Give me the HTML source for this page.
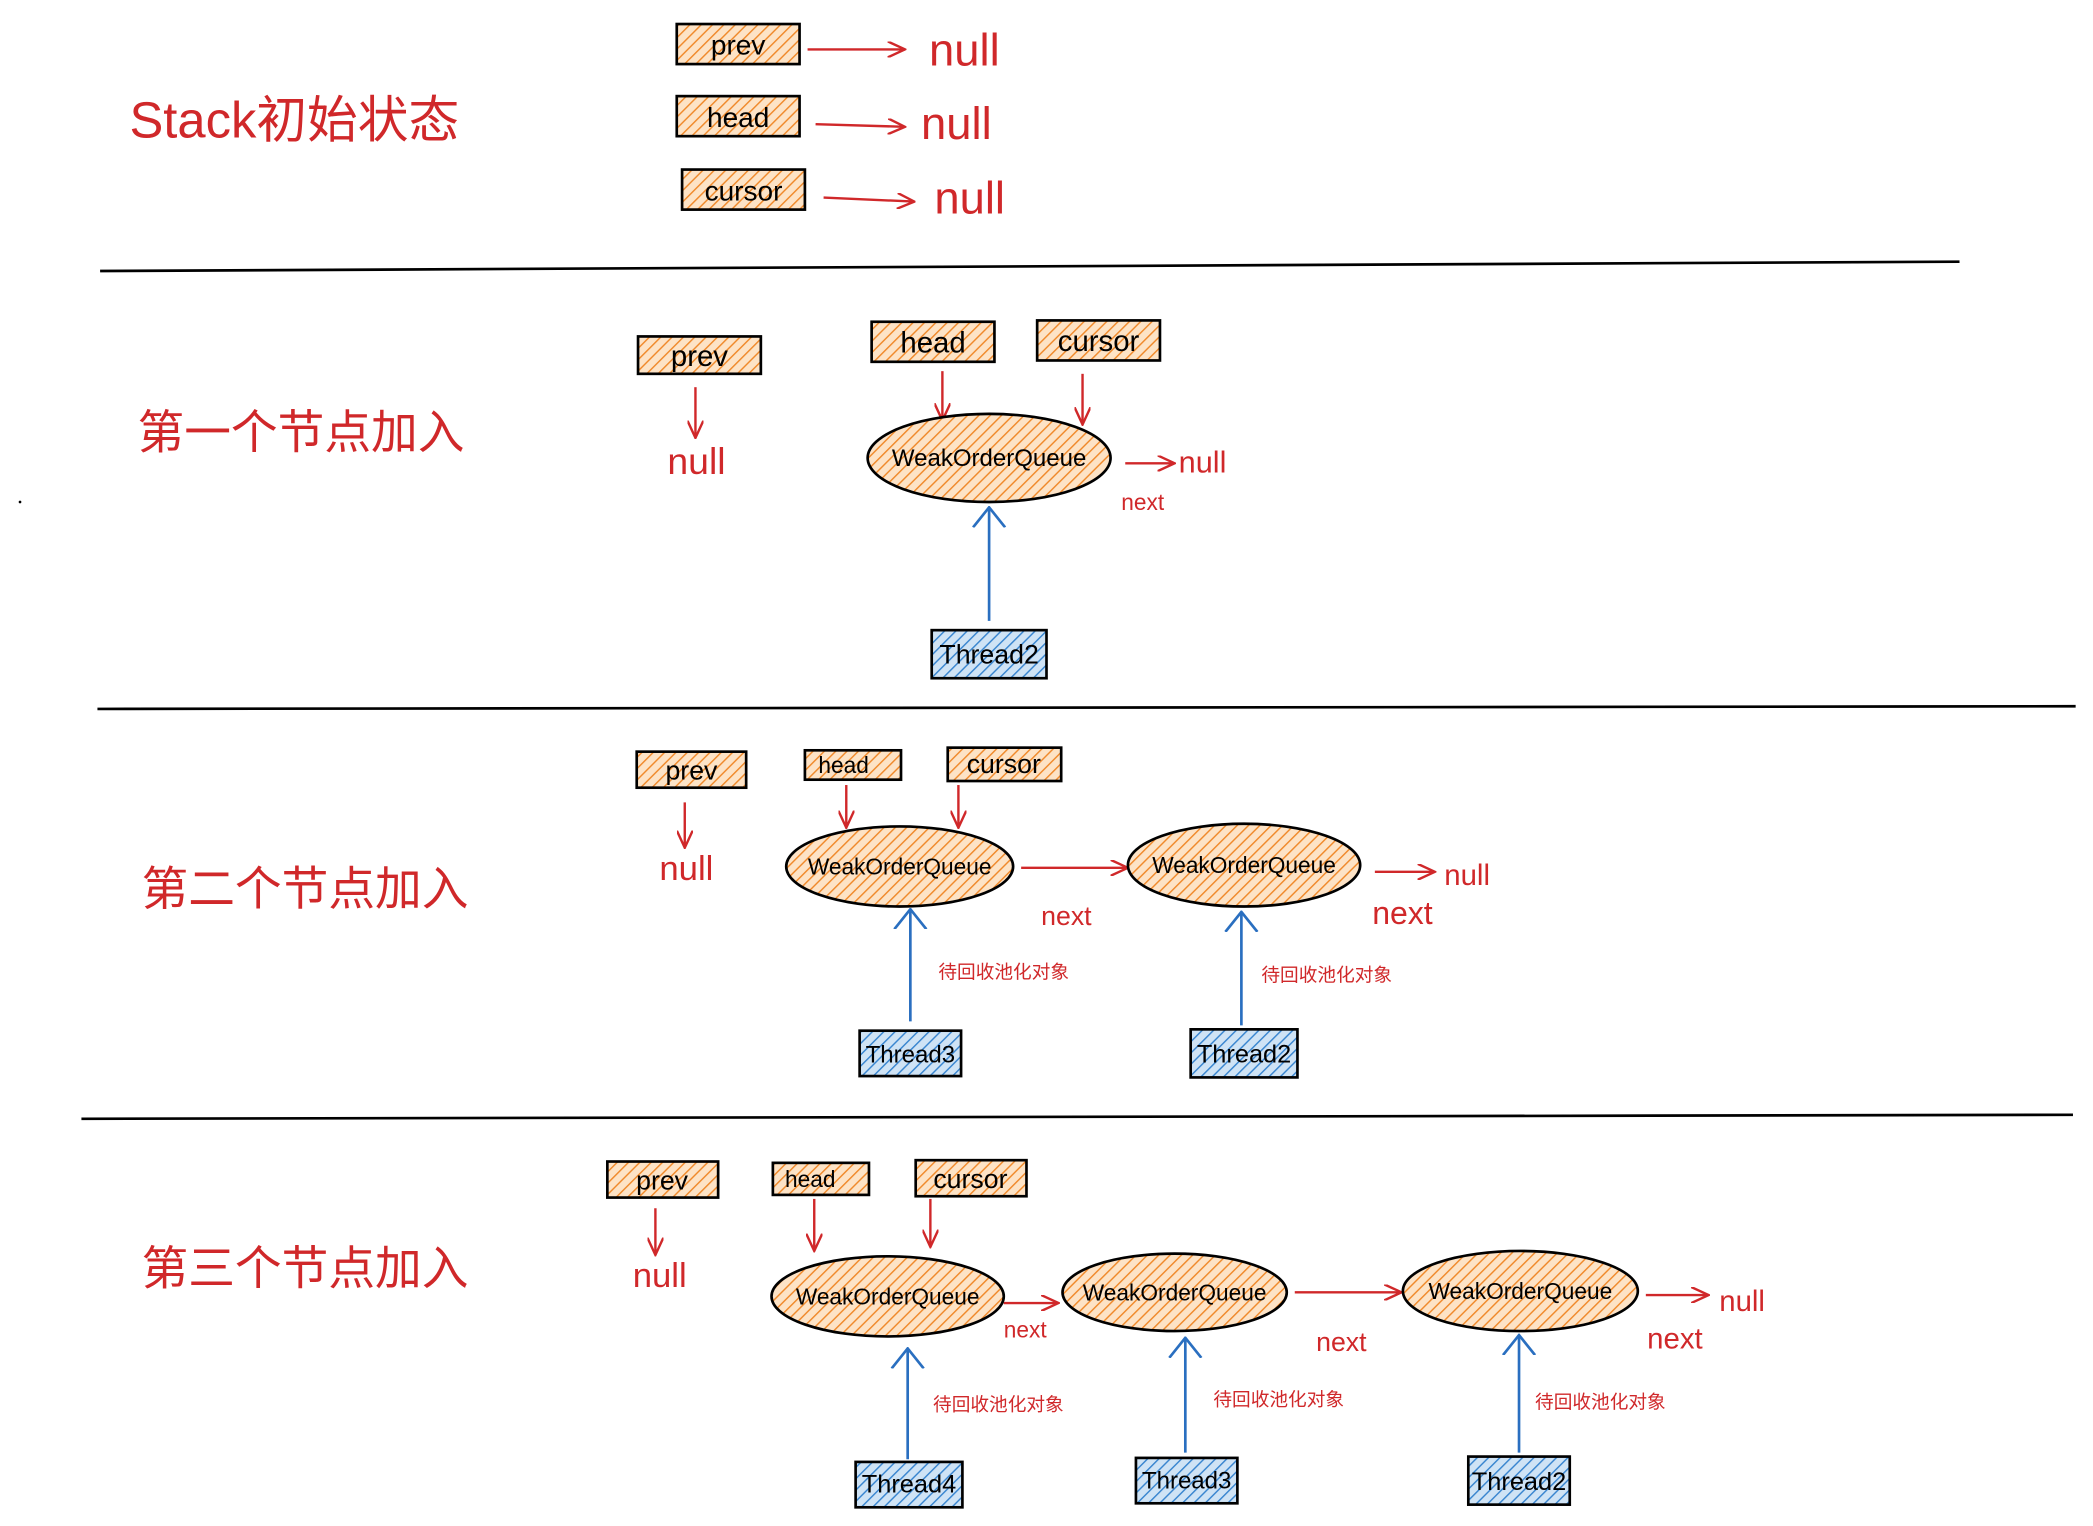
<!DOCTYPE html>
<html><head><meta charset="utf-8"><style>
html,body{margin:0;padding:0;background:#fff;}
svg{display:block;}
text{font-family:"Liberation Sans","Noto Sans CJK SC",sans-serif;}
.r{fill:#d0282a;}
.t{fill:#000;}
</style></head><body>
<svg width="2093" height="1526" viewBox="0 0 1568 1143" preserveAspectRatio="none" xmlns="http://www.w3.org/2000/svg">
<defs>
<pattern id="ho" width="6" height="6" patternUnits="userSpaceOnUse" patternTransform="rotate(45)">
<rect width="6" height="6" fill="#fde3c6"/><line x1="0" y1="0" x2="0" y2="6" stroke="#f08a2c" stroke-width="2.2"/></pattern>
<pattern id="hb" width="6" height="6" patternUnits="userSpaceOnUse" patternTransform="rotate(45)">
<rect width="6" height="6" fill="#cfe3f5"/><line x1="0" y1="0" x2="0" y2="6" stroke="#3a86d0" stroke-width="2.2"/></pattern>
<marker id="ar" markerWidth="14" markerHeight="12" refX="13" refY="6" orient="auto" markerUnits="userSpaceOnUse"><path d="M0,0 L13,6 L0,12" fill="none" stroke="#d0282a" stroke-width="1.8"/></marker>
<marker id="ab" markerWidth="16" markerHeight="30" refX="15" refY="15" orient="auto" markerUnits="userSpaceOnUse"><path d="M0,3 L15,15 L0,27" fill="none" stroke="#2a6fc0" stroke-width="2"/></marker>
</defs>
<g stroke="#d0282a" stroke-width="1.8" fill="none" marker-end="url(#ar)">
<line x1="605" y1="37" x2="678" y2="37"/>
<line x1="611" y1="93" x2="678" y2="95"/>
<line x1="617" y1="148" x2="685" y2="151"/>
<line x1="521" y1="290" x2="521" y2="328"/>
<line x1="706" y1="278" x2="706" y2="315"/>
<line x1="811" y1="280" x2="811" y2="318"/>
<line x1="843" y1="347" x2="880" y2="347"/>
<line x1="513" y1="601" x2="513" y2="635"/>
<line x1="634" y1="588" x2="634" y2="620"/>
<line x1="718" y1="588" x2="718" y2="620"/>
<line x1="765" y1="650" x2="845" y2="650"/>
<line x1="1030" y1="653" x2="1075" y2="653"/>
<line x1="491" y1="905" x2="491" y2="940"/>
<line x1="610" y1="898" x2="610" y2="937"/>
<line x1="697" y1="898" x2="697" y2="934"/>
<line x1="752" y1="976" x2="793" y2="976"/>
<line x1="970" y1="968" x2="1050" y2="968"/>
<line x1="1233" y1="970" x2="1280" y2="970"/>
</g>
<g stroke="#2a6fc0" stroke-width="2" fill="none" marker-end="url(#ab)">
<line x1="741" y1="465" x2="741" y2="380"/>
<line x1="682" y1="765" x2="682" y2="681"/>
<line x1="930" y1="768" x2="930" y2="683"/>
<line x1="680" y1="1093" x2="680" y2="1010"/>
<line x1="888" y1="1088" x2="888" y2="1002"/>
<line x1="1138" y1="1088" x2="1138" y2="1000"/>
</g>
<g stroke="#000" stroke-width="2">
<line x1="75" y1="203" x2="1468" y2="196"/>
<line x1="73" y1="531" x2="1555" y2="529"/>
<line x1="61" y1="838" x2="1553" y2="835"/>
</g>
<circle cx="15" cy="376" r="1" fill="#000"/>
<g stroke="#000" stroke-width="2" fill="url(#ho)">
<rect x="507" y="18" width="92" height="30"/><rect x="507" y="72" width="92" height="30"/><rect x="511" y="127" width="92" height="30"/>
<rect x="478" y="252" width="92" height="28"/><rect x="653" y="241" width="92" height="30"/><rect x="777" y="240" width="92" height="30"/>
<rect x="477" y="563" width="82" height="27"/><rect x="603" y="562" width="72" height="22"/><rect x="710" y="560" width="85" height="25"/>
<rect x="455" y="870" width="83" height="27"/><rect x="579" y="871" width="72" height="24"/><rect x="686" y="869" width="83" height="27"/>
<ellipse cx="741" cy="343" rx="91" ry="33"/>
<ellipse cx="674" cy="649" rx="85" ry="30"/><ellipse cx="932" cy="648" rx="87" ry="31"/>
<ellipse cx="665" cy="971" rx="87" ry="30"/><ellipse cx="880" cy="968" rx="84" ry="29"/><ellipse cx="1139" cy="967" rx="88" ry="30"/>
</g>
<g stroke="#000" stroke-width="2" fill="url(#hb)">
<rect x="698" y="472" width="86" height="36"/>
<rect x="644" y="772" width="76" height="34"/><rect x="892" y="771" width="80" height="36"/>
<rect x="641" y="1095" width="80" height="34"/><rect x="851" y="1092" width="76" height="34"/><rect x="1100" y="1091" width="76" height="36"/>
</g>
<g class="t" text-anchor="middle">
<text x="553" y="41" font-size="21">prev</text><text x="553" y="95" font-size="21">head</text><text x="557" y="150" font-size="21">cursor</text>
<text x="524" y="274" font-size="22">prev</text><text x="699" y="264" font-size="22">head</text><text x="823" y="263" font-size="22">cursor</text>
<text x="741" y="349" font-size="18">WeakOrderQueue</text>
<text x="741" y="497" font-size="20">Thread2</text>
<text x="518" y="584" font-size="20">prev</text><text x="632" y="579" font-size="17">head</text><text x="752" y="579" font-size="20">cursor</text>
<text x="674" y="655" font-size="17">WeakOrderQueue</text><text x="932" y="654" font-size="17">WeakOrderQueue</text>
<text x="682" y="796" font-size="18">Thread3</text><text x="932" y="796" font-size="19">Thread2</text>
<text x="496" y="891" font-size="20">prev</text><text x="607" y="889" font-size="17">head</text><text x="727" y="890" font-size="20">cursor</text>
<text x="665" y="977" font-size="17">WeakOrderQueue</text><text x="880" y="974" font-size="17">WeakOrderQueue</text><text x="1139" y="973" font-size="17">WeakOrderQueue</text>
<text x="681" y="1118" font-size="19">Thread4</text><text x="889" y="1115" font-size="18">Thread3</text><text x="1138" y="1116" font-size="19">Thread2</text>
</g>
<g class="r">
<text x="97" y="103" font-size="38">Stack初始状态</text>
<text x="696" y="49" font-size="34">null</text><text x="690" y="104" font-size="34">null</text><text x="700" y="160" font-size="34">null</text>
<text x="103" y="336" font-size="35">第一个节点加入</text>
<text x="500" y="355" font-size="28">null</text>
<text x="883" y="354" font-size="23">null</text>
<text x="840" y="382" font-size="17">next</text>
<text x="106" y="678" font-size="35">第二个节点加入</text>
<text x="494" y="659" font-size="26">null</text>
<text x="1082" y="663" font-size="22">null</text>
<text x="780" y="693" font-size="20">next</text><text x="1028" y="692" font-size="24">next</text>
<text x="703" y="733" font-size="14">待回收池化对象</text><text x="945" y="735" font-size="14">待回收池化对象</text>
<text x="106" y="962" font-size="35">第三个节点加入</text>
<text x="474" y="964" font-size="26">null</text>
<text x="1288" y="982" font-size="22">null</text>
<text x="752" y="1002" font-size="17">next</text><text x="986" y="1012" font-size="20">next</text><text x="1234" y="1010" font-size="22">next</text>
<text x="699" y="1057" font-size="14">待回收池化对象</text><text x="909" y="1053" font-size="14">待回收池化对象</text><text x="1150" y="1055" font-size="14">待回收池化对象</text>
</g>
</svg>
</body></html>
